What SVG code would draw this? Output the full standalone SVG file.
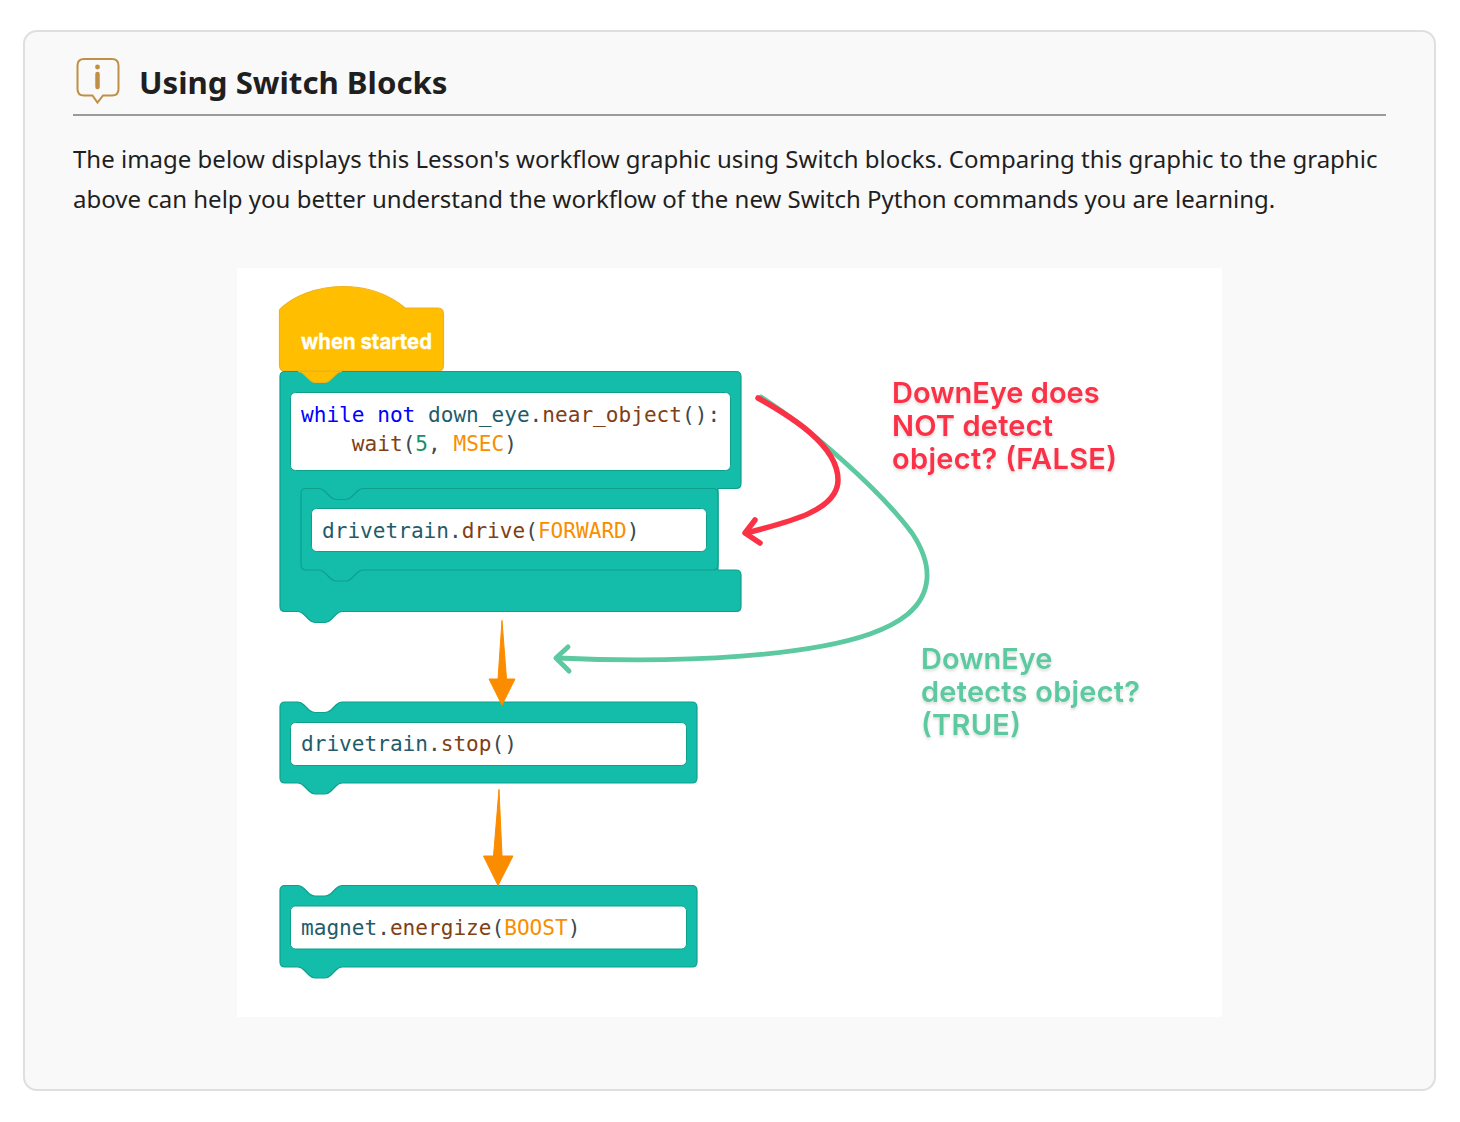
<svg xmlns="http://www.w3.org/2000/svg" width="1460" height="1122" viewBox="0 0 1460 1122">
<defs>
<filter id="soft" x="-10%" y="-10%" width="120%" height="130%"><feDropShadow dx="0" dy="2" stdDeviation="1.5" flood-color="#000" flood-opacity="0.15"/></filter>
</defs>
<style>
.body{font:400 24px "Noto Sans",sans-serif;fill:#1f1f1f}
.h{font:700 31.2px "Noto Sans",sans-serif;fill:#1f1f1f}
.code{font:400 21.1px "DejaVu Sans Mono",monospace;fill:#1f5c6b}
.kw{fill:#0000ff}.fn{fill:#7f4016}.en{fill:#f78f00}.num{fill:#13906f}.p{fill:#3c4a4f}
.blk{fill:#14bcaa;stroke:#0f9f8d;stroke-width:1.2}
.slot{fill:#fff;stroke:#0f9f8d;stroke-width:1}
.lab{font:600 29px "Inter",sans-serif}
.red{fill:#fb3246}.grn{fill:#5dc9a0}
.line{fill:none;stroke-linecap:round;stroke-linejoin:round}
.arw{fill:#fb8c00;stroke:#fb8c00;stroke-width:1;stroke-linejoin:round}
</style>
<rect width="1460" height="1122" fill="#fff"/>
<rect id="panel" x="24" y="31" width="1411" height="1059" rx="13" fill="#f9f9f9" stroke="#dfdfdf" stroke-width="2"/>
<g id="icon" fill="none" stroke="#c08f45" stroke-width="2">
<path d="M84 59H112Q118.500 59 118.500 65.500V89Q118.500 95.500 112 95.500H103L97.500 102.500L92.500 95.500H84Q77.500 95.500 77.500 89V65.500Q77.500 59 84 59Z"/>
<path d="M97.500 74V87" stroke-width="4.500" stroke-linecap="round"/>
<circle cx="97.500" cy="67" r="2.400" fill="#c08f45" stroke="none"/>
</g>
<text class="h" x="139" y="94">Using Switch Blocks</text>
<rect x="73" y="114" width="1313" height="2" fill="#9b9b9b"/>
<text class="body" x="73" y="168">The image below displays this Lesson's workflow graphic using Switch blocks. Comparing this graphic to the graphic</text>
<text class="body" x="73" y="208">above can help you better understand the workflow of the new Switch Python commands you are learning.</text>
<rect id="figure" x="237" y="268" width="985" height="749" fill="#fff"/>
<g id="when-started">
<path d="M285 371Q279.500 371 279.500 365V310C292 296 318 286.500 342 286.500C368 286.500 390 295 405 308H438Q443.500 308 443.500 314V365Q443.500 371 438 371Z" fill="#ffbf00" stroke="#f2b01e" stroke-width="1.200"/>
<text x="301" y="348.500" font-family="Inter,sans-serif" font-weight="700" font-size="21.500" fill="#fff" stroke="#fff" stroke-width="0.300" textLength="131" lengthAdjust="spacingAndGlyphs">when started</text>
</g>
<g id="while-block">
<path class="blk" d="M285 371.500H736Q741 371.500 741 376.500V483.500Q741 488.500 736 488.500H718V570H736Q741 570 741 575V606.500Q741 611.500 736 611.500H342Q339 611.500 336 614.500L331 619.500Q328 622.500 325 622.500H315Q312 622.500 309 619.500L304 614.500Q301 611.500 298 611.500H285Q280 611.500 280 606.500V376.500Q280 371.500 285 371.500Z"/>
<path d="M298 371.500Q301 371.500 304 374.500L309 379.500Q312 382.500 315 382.500H325Q328 382.500 331 379.500L336 374.500Q339 371.500 342 371.500Z" fill="#ffbf00" stroke="#f2b01e" stroke-width="1"/>
<rect class="slot" x="290.500" y="392.500" width="440" height="78" rx="5"/>
<text class="code" x="301" y="422"><tspan class="kw">while not</tspan> down_eye<tspan class="p">.</tspan><tspan class="fn">near_object</tspan><tspan class="p">():</tspan></text>
<text class="code" x="301" y="451" xml:space="preserve">    <tspan class="fn">wait</tspan><tspan class="p">(</tspan><tspan class="num">5</tspan><tspan class="p">, </tspan><tspan class="en">MSEC</tspan><tspan class="p">)</tspan></text>
</g>
<g id="drive-block">
<path class="blk" d="M306 488.500H319Q322 488.500 325 491.500L330 496.500Q333 499.500 336 499.500H346Q349 499.500 352 496.500L357 491.500Q360 488.500 363 488.500H713Q718 488.500 718 493.500V565Q718 570 713 570H363Q360 570 357 573L352 578Q349 581 346 581H336Q333 581 330 578L325 573Q322 570 319 570H306Q301 570 301 565V493.500Q301 488.500 306 488.500Z"/>
<rect class="slot" x="311.500" y="508.500" width="395" height="43" rx="5"/>
<text class="code" x="322" y="538">drivetrain<tspan class="p">.</tspan><tspan class="fn">drive</tspan><tspan class="p">(</tspan><tspan class="en">FORWARD</tspan><tspan class="p">)</tspan></text>
</g>
<g id="stop-block">
<path class="blk" d="M285 702H298Q301 702 304 705L309 710Q312 712.500 315 712.500H325Q328 712.500 331 710L336 705Q339 702 342 702H692Q697 702 697 707V778Q697 783 692 783H342Q339 783 336 786L331 791Q328 794 325 794H315Q312 794 309 791L304 786Q301 783 298 783H285Q280 783 280 778V707Q280 702 285 702Z"/>
<rect class="slot" x="290.500" y="722.500" width="396" height="43" rx="5"/>
<text class="code" x="301" y="751">drivetrain<tspan class="p">.</tspan><tspan class="fn">stop</tspan><tspan class="p">()</tspan></text>
</g>
<g id="energize-block">
<path class="blk" d="M285 885.500H298Q301 885.500 304 888.500L309 893.500Q312 896 315 896H325Q328 896 331 893.500L336 888.500Q339 885.500 342 885.500H692Q697 885.500 697 890.500V962Q697 967 692 967H342Q339 967 336 970L331 975Q328 978 325 978H315Q312 978 309 975L304 970Q301 967 298 967H285Q280 967 280 962V890.500Q280 885.500 285 885.500Z"/>
<rect class="slot" x="290.500" y="906" width="396" height="43" rx="5"/>
<text class="code" x="301" y="935">magnet<tspan class="p">.</tspan><tspan class="fn">energize</tspan><tspan class="p">(</tspan><tspan class="en">BOOST</tspan><tspan class="p">)</tspan></text>
</g>
<g id="connectors">
<path class="line" d="M761 397C812 430 880 490 912 533C920 545 928 560 927 578C925 610 895 625 870 634C810 655 690 664 558 658" stroke="#5dc9a0" stroke-width="4.800"/>
<path class="line" d="M568 647L556 658L569 671" stroke="#5dc9a0" stroke-width="5"/>
<path class="line" d="M758 398C790 416 838 445 838 480C838 510 790 522 746 533" stroke="#fb3246" stroke-width="5.500"/>
<path class="line" d="M755 520L745 533L760 543" stroke="#fb3246" stroke-width="5.500"/>
<path class="arw" d="M502 620.500L506.500 679H515L502 705L489 679H498Z"/>
<path class="arw" d="M499 789.500L502 856H513L498 885.500L483.500 856H493.500Z"/>
</g>
<g filter="url(#soft)">
<text class="lab red" x="892" y="403">DownEye does</text>
<text class="lab red" x="892" y="436" textLength="161">NOT detect</text>
<text class="lab red" x="892" y="469" textLength="225">object? (FALSE)</text>
<text class="lab grn" x="921" y="669">DownEye</text>
<text class="lab grn" x="921" y="702" textLength="219">detects object?</text>
<text class="lab grn" x="921" y="735" textLength="100">(TRUE)</text>
</g>
</svg>
